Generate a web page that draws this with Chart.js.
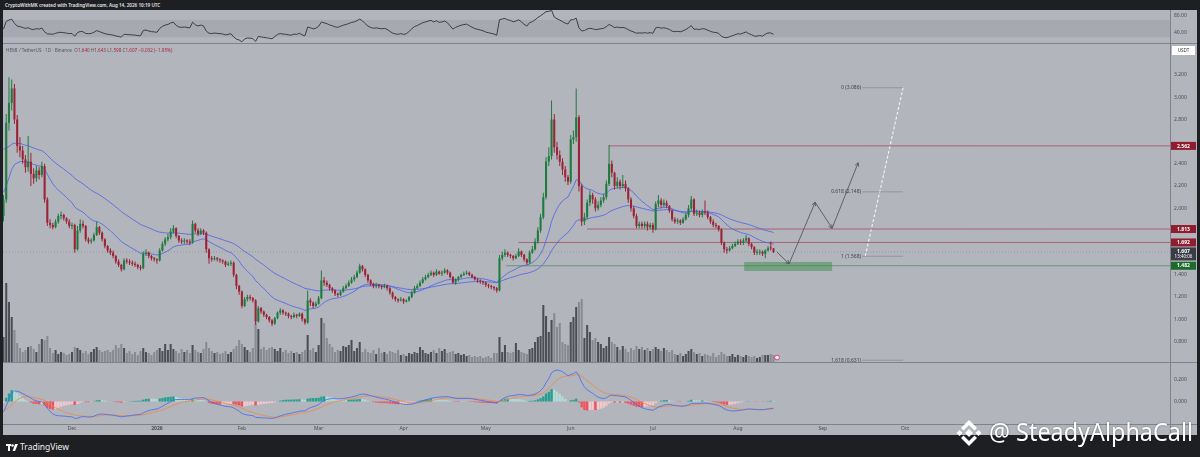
<!DOCTYPE html>
<html>
<head>
<meta charset="utf-8">
<script src="https://cdn.jsdelivr.net/npm/chart.js@4.4.1/dist/chart.umd.min.js"></script>
<style>
  html, body { margin: 0; padding: 0; }
  body { width: 1200px; height: 457px; background: #1e1f23; position: relative; overflow: hidden; font-family: 'Noto Sans', Roboto, sans-serif; }
  #frame { position: absolute; left: 3px; top: 10px; width: 1194px; height: 425px; background: #b3b5bd; }
  canvas { position: absolute; left: 0; }
  .hline { position: absolute; left: 3px; width: 1194px; height: 1px; background: #7f828a; }
  .vline { position: absolute; left: 1170px; top: 10px; width: 1px; height: 425px; background: #7f828a; }
  #hdr { position: absolute; left: 5px; top: 2px; font-size: 4.6px; line-height: 6px; color: #e6e6e6; font-weight: 600; white-space: nowrap; }
  #legend { position: absolute; left: 6px; top: 47px; font-size: 4.6px; line-height: 6px; color: #55575d; white-space: nowrap; }
  #legend .v { color: #a3283a; }
  #usdt { position: absolute; left: 1172px; top: 46px; width: 23px; height: 9px; background: #fff; color: #333; font-size: 4.6px; line-height: 9px; text-align: center; }
  #tv { position: absolute; left: 6px; top: 441px; color: #f0f0f0; font-size: 8.5px; line-height: 11px; white-space: nowrap; }
  #tv svg { vertical-align: -1px; margin-right: 2px; }
  #wm { position: absolute; left: 954px; top: 417px; height: 32px; white-space: nowrap; }
  #wm svg { position: absolute; left: 0; top: 1px; }
  #wmText { position: absolute; left: 35px; top: -2px; color: #fff; font-size: 25px; line-height: 32px; transform-origin: 0 0; text-shadow: 0 0 2px rgba(0,0,0,0.45); }
</style>
</head>
<body>
<div id="frame"></div>
<canvas id="rsiChart" width="1200" height="33" style="top:10px"></canvas>
<canvas id="mainChart" width="1200" height="319" style="top:43px"></canvas>
<canvas id="macdChart" width="1200" height="73" style="top:362px"></canvas>
<div class="hline" style="top:43px"></div>
<div class="hline" style="top:362px"></div>
<div class="hline" style="top:424px"></div>
<div class="vline"></div>
<div id="hdr">CryptoWithMK created with TradingView.com, Aug 14, 2026 10:19 UTC</div>
<div id="legend">HEMI / TetherUS · 1D · Binance &nbsp;O<span class="v">1.640</span> H<span class="v">1.643</span> L<span class="v">1.598</span> C<span class="v">1.607 −0.032 (−1.95%)</span></div>
<div id="usdt">USDT</div>
<div id="tv"><svg width="12" height="7" viewBox="0 0 12 7"><rect x="0" y="0" width="5" height="2" fill="#fff"/><rect x="2" y="0" width="2" height="7" fill="#fff"/><circle cx="6.5" cy="1.5" r="1.3" fill="#fff"/><polygon points="9,0 12,0 9,7 6.6,7" fill="#fff"/></svg>TradingView</div>
<div id="wm">
  <svg width="30" height="30" viewBox="0 0 30 30">
    <g fill="#fff">
      <polygon points="15,11 19,15 15,19 11,15"/>
      <polygon points="15,2 23,10 20.5,12.5 15,7 9.5,12.5 7,10"/>
      <polygon points="15,28 23,20 20.5,17.5 15,23 9.5,17.5 7,20"/>
      <polygon points="2.5,15 5.5,12 8.5,15 5.5,18"/>
      <polygon points="27.5,15 24.5,12 21.5,15 24.5,18"/>
    </g>
  </svg>
  <span id="wmText">@ SteadyAlphaCall</span>
</div>

<script>
// --- Data (daily candles, day 0 = 6 Nov 2025) ---
const firstOpen = 1.93;
const closes = [
  2.08,2.77,2.95,3.08,2.80,2.56,2.52,2.44,2.37,2.42,
  2.31,2.27,2.34,2.30,2.38,2.08,1.87,1.85,1.83,1.88,
  1.93,1.94,1.91,1.88,1.84,1.85,1.63,1.80,1.86,1.84,
  1.72,1.70,1.71,1.76,1.83,1.78,1.72,1.66,1.62,1.60,
  1.57,1.52,1.49,1.45,1.53,1.52,1.51,1.50,1.49,1.47,
  1.46,1.59,1.60,1.57,1.55,1.54,1.53,1.62,1.68,1.72,
  1.74,1.79,1.82,1.75,1.71,1.70,1.71,1.70,1.69,1.86,
  1.80,1.77,1.80,1.78,1.63,1.55,1.54,1.55,1.54,1.53,
  1.52,1.49,1.50,1.51,1.40,1.30,1.25,1.12,1.18,1.20,
  1.19,1.17,0.98,1.10,1.07,1.04,1.02,0.99,0.96,1.01,
  1.06,1.08,1.06,1.05,1.03,1.02,1.04,1.03,1.05,1.00,
  0.97,1.17,1.15,1.12,1.14,1.19,1.35,1.33,1.31,1.28,
  1.26,1.23,1.22,1.25,1.28,1.30,1.33,1.36,1.38,1.42,
  1.48,1.45,1.40,1.35,1.32,1.30,1.31,1.30,1.29,1.30,
  1.28,1.24,1.20,1.18,1.17,1.18,1.16,1.17,1.20,1.24,
  1.28,1.30,1.33,1.36,1.38,1.40,1.42,1.40,1.43,1.41,
  1.42,1.44,1.42,1.38,1.33,1.36,1.38,1.40,1.41,1.42,
  1.40,1.38,1.36,1.35,1.34,1.33,1.31,1.30,1.29,1.28,
  1.26,1.55,1.58,1.60,1.58,1.57,1.55,1.57,1.61,1.58,
  1.54,1.51,1.60,1.63,1.70,1.80,1.92,2.10,2.42,2.47,
  2.80,2.55,2.48,2.42,2.35,2.28,2.24,2.62,2.64,2.82,
  2.20,1.88,1.92,2.05,2.12,2.08,2.00,2.03,2.07,2.10,
  2.22,2.40,2.32,2.20,2.24,2.20,2.22,2.18,2.08,2.00,
  1.93,1.84,1.86,1.84,1.86,1.83,1.85,1.81,2.04,2.07,
  2.03,2.05,2.02,1.98,1.90,1.88,1.89,1.87,1.90,1.94,
  2.00,2.08,1.95,1.96,1.94,1.97,1.96,1.92,1.88,1.85,
  1.84,1.81,1.69,1.63,1.62,1.64,1.66,1.68,1.70,1.69,
  1.71,1.73,1.68,1.65,1.60,1.60,1.61,1.59,1.62,1.64,
  1.639,1.607
];
const highs = [
  2.12,2.85,3.18,3.16,3.12,2.84,2.64,2.56,2.48,2.65,
  2.50,2.36,2.38,2.37,2.42,2.40,2.10,1.90,1.87,1.90,
  1.95,1.97,1.95,1.92,1.90,1.87,1.86,1.84,1.90,1.89,
  1.85,1.74,1.73,1.78,1.88,1.84,1.79,1.73,1.67,1.64,
  1.62,1.58,1.54,1.50,1.55,1.55,1.54,1.53,1.52,1.50,
  1.49,1.61,1.63,1.61,1.58,1.56,1.55,1.64,1.70,1.74,
  1.77,1.82,1.85,1.83,1.76,1.73,1.73,1.72,1.72,1.89,
  1.87,1.82,1.82,1.81,1.79,1.64,1.57,1.57,1.56,1.55,
  1.54,1.53,1.52,1.53,1.52,1.41,1.31,1.26,1.20,1.22,
  1.22,1.20,1.18,1.12,1.11,1.08,1.05,1.03,1.00,1.02,
  1.07,1.10,1.09,1.07,1.06,1.04,1.06,1.05,1.06,1.06,
  1.01,1.26,1.19,1.16,1.16,1.21,1.44,1.38,1.35,1.32,
  1.29,1.27,1.24,1.26,1.30,1.32,1.35,1.38,1.40,1.44,
  1.50,1.49,1.46,1.41,1.36,1.33,1.33,1.32,1.31,1.32,
  1.31,1.29,1.25,1.21,1.19,1.20,1.19,1.18,1.21,1.26,
  1.30,1.32,1.35,1.38,1.40,1.42,1.44,1.43,1.45,1.44,
  1.44,1.46,1.45,1.43,1.39,1.37,1.39,1.41,1.43,1.44,
  1.43,1.41,1.39,1.37,1.36,1.35,1.34,1.32,1.31,1.30,
  1.29,1.58,1.61,1.63,1.61,1.59,1.58,1.59,1.64,1.62,
  1.59,1.55,1.62,1.66,1.73,1.83,1.95,2.14,2.46,2.55,
  2.97,2.85,2.60,2.52,2.45,2.38,2.30,2.66,2.70,3.08,
  2.84,2.22,1.96,2.08,2.16,2.14,2.10,2.06,2.10,2.13,
  2.25,2.57,2.43,2.33,2.28,2.26,2.30,2.25,2.19,2.10,
  2.02,1.95,1.88,1.88,1.88,1.88,1.87,1.87,2.06,2.12,
  2.09,2.08,2.07,2.03,1.99,1.92,1.91,1.90,1.92,1.96,
  2.03,2.11,2.09,1.99,1.98,1.99,2.07,1.98,1.93,1.90,
  1.87,1.85,1.82,1.70,1.65,1.66,1.68,1.70,1.72,1.72,
  1.73,1.76,1.74,1.69,1.66,1.63,1.63,1.62,1.63,1.66,
  1.70,1.643
];
const lows = [
  1.88,2.05,2.70,2.88,2.76,2.50,2.46,2.40,2.32,2.33,
  2.20,2.22,2.24,2.26,2.28,2.05,1.84,1.82,1.81,1.82,
  1.86,1.90,1.89,1.86,1.82,1.81,1.60,1.62,1.78,1.82,
  1.70,1.68,1.68,1.70,1.75,1.76,1.70,1.64,1.60,1.58,
  1.55,1.50,1.47,1.43,1.44,1.50,1.49,1.48,1.47,1.45,
  1.44,1.45,1.57,1.55,1.53,1.52,1.50,1.52,1.61,1.66,
  1.70,1.72,1.77,1.73,1.69,1.68,1.68,1.68,1.67,1.68,
  1.78,1.75,1.76,1.76,1.60,1.50,1.52,1.53,1.52,1.51,
  1.50,1.47,1.48,1.48,1.38,1.27,1.22,1.10,1.11,1.16,
  1.17,1.15,0.95,0.97,1.05,1.02,1.00,0.97,0.94,0.95,
  1.00,1.04,1.04,1.03,1.01,1.00,1.01,1.01,1.02,0.98,
  0.95,0.96,1.12,1.10,1.11,1.13,1.18,1.30,1.29,1.26,
  1.24,1.21,1.20,1.21,1.24,1.27,1.29,1.32,1.34,1.37,
  1.41,1.43,1.38,1.33,1.30,1.28,1.28,1.28,1.27,1.28,
  1.26,1.22,1.18,1.16,1.15,1.16,1.14,1.15,1.16,1.19,
  1.23,1.27,1.29,1.32,1.35,1.37,1.39,1.38,1.39,1.40,
  1.39,1.41,1.40,1.37,1.32,1.31,1.34,1.37,1.39,1.40,
  1.39,1.37,1.35,1.33,1.32,1.31,1.29,1.28,1.27,1.26,
  1.24,1.25,1.53,1.56,1.56,1.55,1.53,1.54,1.56,1.56,
  1.52,1.49,1.50,1.59,1.62,1.68,1.78,1.90,2.08,2.38,
  2.44,2.50,2.44,2.38,2.30,2.24,2.21,2.22,2.58,2.60,
  2.15,1.84,1.85,1.90,2.02,2.04,1.97,1.98,2.01,2.05,
  2.08,2.20,2.28,2.17,2.18,2.17,2.18,2.15,2.05,1.97,
  1.91,1.82,1.82,1.82,1.82,1.80,1.81,1.78,1.80,2.01,
  2.00,2.01,2.00,1.96,1.88,1.86,1.86,1.85,1.86,1.89,
  1.92,1.98,1.93,1.93,1.92,1.92,1.94,1.90,1.86,1.83,
  1.82,1.79,1.67,1.60,1.59,1.61,1.63,1.65,1.67,1.67,
  1.67,1.69,1.66,1.63,1.58,1.58,1.58,1.57,1.55,1.61,
  1.62,1.598
];
// volume in millions
const volumes = [
  2.5,7.9,6.0,4.5,3.2,1.9,1.4,1.0,1.2,1.5,
  1.6,1.3,1.0,1.8,2.3,2.2,2.6,1.4,0.9,1.2,
  0.8,1.0,0.9,0.7,0.8,1.0,1.5,1.4,1.2,0.9,
  1.1,0.8,1.0,1.3,1.5,1.2,1.0,1.1,1.2,1.0,
  1.2,1.7,1.4,1.8,1.4,0.9,1.1,0.8,1.0,0.7,
  1.1,1.4,1.0,0.9,0.7,1.0,1.2,1.4,1.1,1.8,
  1.2,1.8,1.3,1.1,0.9,1.3,1.0,1.2,0.9,1.7,
  1.2,1.0,0.9,1.3,2.0,1.4,1.1,0.9,1.0,0.8,
  0.9,1.1,0.8,1.0,1.3,1.6,2.2,1.8,1.5,1.2,
  1.0,1.4,3.9,3.3,1.3,1.5,1.2,1.4,1.5,1.3,
  1.1,1.4,1.0,1.2,0.9,1.1,0.9,1.0,0.8,1.0,
  1.2,2.7,1.2,1.4,1.0,1.7,4.4,3.9,2.4,1.8,
  1.5,1.0,1.2,1.1,1.6,1.5,1.7,2.2,1.1,1.4,
  2.0,1.0,1.3,1.0,0.9,1.2,0.8,1.4,0.9,1.0,
  0.8,1.1,1.0,0.9,1.2,0.7,0.8,0.6,0.9,0.8,
  1.0,0.9,1.5,1.2,0.9,0.8,1.0,1.2,0.9,1.4,
  1.1,1.3,0.9,1.0,1.1,0.8,0.9,0.7,0.8,0.6,
  0.7,0.5,0.6,0.5,0.6,0.4,0.5,0.6,0.4,0.9,
  0.9,2.5,1.0,1.7,1.0,0.9,1.0,1.9,1.2,1.0,
  0.9,0.8,1.3,1.4,2.0,2.5,2.6,5.7,4.6,3.0,
  4.2,4.9,3.5,3.9,2.0,1.8,1.7,4.0,4.5,5.5,
  6.0,6.3,2.4,3.7,3.0,2.2,2.4,2.0,1.8,1.4,
  1.6,2.5,2.0,1.8,1.5,1.2,1.6,1.3,1.0,1.4,
  1.2,1.6,1.3,1.5,1.2,1.4,1.1,1.3,1.5,1.3,
  1.1,1.4,1.2,1.0,1.2,0.8,0.7,0.9,0.6,0.8,
  1.1,1.3,1.0,0.8,0.9,0.6,0.8,0.7,0.6,0.9,
  0.5,0.7,1.0,0.8,0.6,0.6,0.8,0.5,0.7,0.6,
  0.5,0.7,0.6,0.5,0.6,0.4,0.5,0.7,0.7,0.7,
  0.8,0.7
];

// indicator starting values read at the left edge of the chart
const ema20Seed = 2.15, ema50Seed = 2.55;
const ema12Seed = 2.15, ema26Seed = 2.25, signalSeed = -0.08;
const rsiSeedGain = 0.04, rsiSeedLoss = 0.055;

// axes
const viewStart = -0.18, viewEnd = 425.7;
const priceMin = 0.615, priceMax = 3.489;
const priceTicks = [0.8, 1.0, 1.2, 1.4, 2.0, 2.2, 2.4, 2.8, 3.0, 3.2];
const monthTicks = [25, 56, 87, 115, 146, 176, 207, 237, 268, 299, 329];
const monthLabels = ['Dec', '2026', 'Feb', 'Mar', 'Apr', 'May', 'Jun', 'Jul', 'Aug', 'Sep', 'Oct'];
const rsiMin = 16.4, rsiMax = 92.7, rsiTicks = [40, 80], rsiBand = [30, 70];
const macdMin = -0.209, macdMax = 0.367, macdTicks = [0, 0.2];

// drawings
const redLevels = [2.562, 1.813, 1.692];
const redLevelStarts = [221, 213, 188];
const greenLevel = 1.482, greenLevelStart = 183.5;
const lastPrice = 1.607, countdown = '13:40:06';
const zoneDays = [270.3, 302.4];
const zonePrices = [1.435, 1.516];
const pathDays = [282.2, 286.7, 296.2, 302.4, 311.9];
const pathPrices = [1.607, 1.50, 2.054, 1.82, 2.41];
const fibRatios = ['0', '0.618', '1', '1.618'];
const fibPrices = [3.086, 2.148, 1.568, 0.631];
const fibDays = [313.3, 328.3];
const fibAnchorDays = [314.5, 328.3];
const fibAnchorPrices = [1.568, 3.086];

// --- derived series ---
const opens = closes.map((c, i) => i === 0 ? firstOpen : closes[i - 1]);
const isUp = closes.map((c, i) => c >= opens[i]);

function ema(values, len, seed) {
  const k = 2 / (len + 1);
  let prev = seed;
  return values.map(v => (prev = prev + k * (v - prev)));
}
const ema20 = ema(closes, 20, ema20Seed);
const ema50 = ema(closes, 50, ema50Seed);
const ema12 = ema(closes, 12, ema12Seed);
const ema26 = ema(closes, 26, ema26Seed);
const macdLine = ema12.map((v, i) => v - ema26[i]);
const signalLine = ema(macdLine, 9, signalSeed);
const macdHist = macdLine.map((v, i) => v - signalLine[i]);

let avgGain = rsiSeedGain, avgLoss = rsiSeedLoss;
const rsi = closes.map((c, i) => {
  const change = c - opens[i];
  avgGain = (avgGain * 13 + Math.max(change, 0)) / 14;
  avgLoss = (avgLoss * 13 + Math.max(-change, 0)) / 14;
  return 100 - 100 / (1 + avgGain / avgLoss);
});

const histColors = macdHist.map((h, i) => {
  const prev = i ? macdHist[i - 1] : h;
  if (h >= 0) return h >= prev ? '#22a08f' : '#b3dcd7';
  return h < prev ? '#f0525a' : '#f4c9cd';
});

const GREEN = '#1f7a3d', RED = '#9b2335';
const candleColors = isUp.map(u => u ? GREEN : RED);
const volColors = isUp.map(u => u ? 'rgba(58,60,66,0.85)' : 'rgba(128,131,138,0.85)');
const pts = arr => arr.map((y, x) => ({ x, y }));

Chart.defaults.font.family = "'Noto Sans', Roboto, sans-serif";
Chart.defaults.animation = false;

function xAxis(display) {
  const axis = {
    type: 'linear', min: viewStart, max: viewEnd, offset: false, display,
    grid: { display: false, drawTicks: false }, border: { display: false },
    afterBuildTicks: s => { s.ticks = monthTicks.map(v => ({ value: v })); },
    ticks: {
      autoSkip: false, maxRotation: 0, padding: 2, color: '#4a4c52',
      font: c => ({ size: 5, weight: c.tick && c.tick.value === 56 ? 'bold' : 'normal' }),
      callback: (v, i) => monthLabels[i]
    }
  };
  if (display) axis.afterFit = s => { s.height = 11; s.paddingLeft = 0; s.paddingRight = 0; };
  return axis;
}
function yAxis(min, max, ticks, digits) {
  return {
    position: 'right', min, max,
    grid: { display: false, drawTicks: false }, border: { display: false },
    afterBuildTicks: s => { s.ticks = ticks.map(v => ({ value: v })); },
    afterFit: s => { s.width = 30; s.paddingTop = 0; s.paddingBottom = 0; },
    ticks: { padding: 4, color: '#4a4c52', font: { size: 5 }, callback: v => v.toFixed(digits) }
  };
}
const baseOptions = {
  responsive: false, devicePixelRatio: 1, events: [],
  layout: { padding: { left: 3, right: 0, top: 0, bottom: 0 } },
  plugins: { legend: { display: false }, tooltip: { enabled: false } }
};

// --- RSI pane ---
const rsiBandPlugin = {
  id: 'rsiBand',
  beforeDatasetsDraw(chart) {
    const { ctx, chartArea, scales: { y } } = chart;
    const top = y.getPixelForValue(rsiBand[1]), bottom = y.getPixelForValue(rsiBand[0]);
    ctx.save();
    ctx.fillStyle = 'rgba(70,72,90,0.10)';
    ctx.fillRect(chartArea.left, top, chartArea.right - chartArea.left, bottom - top);
    ctx.restore();
  }
};
new Chart(document.getElementById('rsiChart'), {
  type: 'line',
  data: { datasets: [{ data: pts(rsi), borderColor: '#3b3c43', borderWidth: 1, pointRadius: 0 }] },
  options: { ...baseOptions, scales: { x: xAxis(false), y: yAxis(rsiMin, rsiMax, rsiTicks, 2) } },
  plugins: [rsiBandPlugin]
});

// --- Price pane ---
const lineSet = (data, color, width, order, dash) => ({
  type: 'line', data, borderColor: color, borderWidth: width, pointRadius: 0,
  borderDash: dash || [], order, yAxisID: 'y'
});
const levelSets = redLevels.map((p, i) =>
  lineSet([{ x: redLevelStarts[i], y: p }, { x: viewEnd, y: p }], 'rgba(160,45,62,0.75)', 0.8, 3));
levelSets.push(lineSet([{ x: greenLevelStart, y: greenLevel }, { x: viewEnd, y: greenLevel }], 'rgba(55,130,70,0.75)', 0.8, 3));
levelSets.push(lineSet([{ x: viewStart, y: lastPrice }, { x: viewEnd, y: lastPrice }], 'rgba(120,100,110,0.4)', 1, 4, [1, 2]));
const fibSets = fibPrices.map(p =>
  lineSet([{ x: fibDays[0], y: p }, { x: fibDays[1], y: p }], 'rgba(120,122,130,0.7)', 0.8, 3));
fibSets.push(lineSet(fibAnchorDays.map((d, i) => ({ x: d, y: fibAnchorPrices[i] })), 'rgba(255,255,255,0.85)', 1.1, 3, [3, 2]));
const pathSet = lineSet(pathDays.map((d, i) => ({ x: d, y: pathPrices[i] })), '#55575e', 0.9, 2);

const mainOverlay = {
  id: 'mainOverlay',
  beforeDatasetsDraw(chart) {
    const { ctx, scales: { x, y } } = chart;
    const x0 = x.getPixelForValue(zoneDays[0]), x1 = x.getPixelForValue(zoneDays[1]);
    const y0 = y.getPixelForValue(zonePrices[1]), y1 = y.getPixelForValue(zonePrices[0]);
    ctx.save();
    ctx.fillStyle = 'rgba(45,140,60,0.45)';
    ctx.fillRect(x0, y0, x1 - x0, y1 - y0);
    ctx.restore();
  },
  afterDatasetsDraw(chart) {
    const { ctx, scales: { x, y } } = chart;
    ctx.save();
    // arrow heads on the projected path
    ctx.strokeStyle = '#55575e';
    ctx.lineWidth = 0.9;
    for (let i = 1; i < pathDays.length; i++) {
      const ax = x.getPixelForValue(pathDays[i - 1]), ay = y.getPixelForValue(pathPrices[i - 1]);
      const bx = x.getPixelForValue(pathDays[i]), by = y.getPixelForValue(pathPrices[i]);
      const ang = Math.atan2(by - ay, bx - ax);
      ctx.beginPath();
      ctx.moveTo(bx - 4 * Math.cos(ang - 0.5), by - 4 * Math.sin(ang - 0.5));
      ctx.lineTo(bx, by);
      ctx.lineTo(bx - 4 * Math.cos(ang + 0.5), by - 4 * Math.sin(ang + 0.5));
      ctx.stroke();
    }
    // fib labels
    ctx.font = "5px 'Noto Sans'";
    ctx.fillStyle = '#3d3f45';
    ctx.textAlign = 'right';
    ctx.textBaseline = 'middle';
    fibPrices.forEach((p, i) => {
      ctx.fillText(fibRatios[i] + ' (' + p.toFixed(3) + ')', x.getPixelForValue(fibDays[0]) - 1, y.getPixelForValue(p));
    });
    // small event marker after the last volume bar
    const mx = x.getPixelForValue(closes.length + 0.3), my = chart.chartArea.bottom - 4.5;
    ctx.beginPath();
    ctx.arc(mx, my, 2.4, 0, Math.PI * 2);
    ctx.fillStyle = '#f7f0f5';
    ctx.fill();
    ctx.strokeStyle = '#d9407f';
    ctx.lineWidth = 1;
    ctx.stroke();
    ctx.restore();
  },
  afterDraw(chart) {
    const { ctx, scales: { y } } = chart;
    const left = chart.chartArea.right + 1;
    ctx.save();
    ctx.textAlign = 'center';
    ctx.textBaseline = 'middle';
    const marks = redLevels.map(p => ({ p, c: '#8f1d2e' }));
    marks.push({ p: greenLevel, c: '#1d6a2c' });
    marks.forEach(m => {
      const py = y.getPixelForValue(m.p);
      ctx.fillStyle = m.c;
      ctx.fillRect(left, py - 4, 25, 8);
      ctx.fillStyle = '#fff';
      ctx.font = "bold 5px 'Noto Sans'";
      ctx.fillText(m.p.toFixed(3), left + 12.5, py + 0.3);
    });
    const py = y.getPixelForValue(lastPrice);
    ctx.fillStyle = '#3a3d46';
    ctx.fillRect(left, py - 4.5, 25, 13);
    ctx.fillStyle = '#fff';
    ctx.font = "bold 5px 'Noto Sans'";
    ctx.fillText(lastPrice.toFixed(3), left + 12.5, py - 0.5);
    ctx.font = "4.5px 'Noto Sans'";
    ctx.fillText(countdown, left + 12.5, py + 5);
    ctx.restore();
  }
};

new Chart(document.getElementById('mainChart'), {
  type: 'bar',
  data: {
    datasets: [
      { type: 'bar', data: closes.map((c, i) => ({ x: i, y: [opens[i], c] })), backgroundColor: candleColors,
        grouped: false, barPercentage: 0.75, categoryPercentage: 1, minBarLength: 1, order: 1, yAxisID: 'y' },
      { type: 'bar', data: closes.map((c, i) => ({ x: i, y: [lows[i], highs[i]] })), backgroundColor: candleColors,
        grouped: false, maxBarThickness: 1, order: 1.5, yAxisID: 'y' },
      lineSet(pts(ema20), 'rgba(72,98,235,0.8)', 1, 2.5),
      lineSet(pts(ema50), 'rgba(72,98,235,0.8)', 1, 2.5),
      ...levelSets,
      ...fibSets,
      pathSet,
      { type: 'bar', data: pts(volumes), backgroundColor: volColors, grouped: false,
        barPercentage: 0.75, categoryPercentage: 1, order: 10, yAxisID: 'vol' }
    ]
  },
  options: {
    ...baseOptions,
    scales: {
      x: xAxis(false),
      y: yAxis(priceMin, priceMax, priceTicks, 3),
      vol: { display: false, min: 0, max: 31.9 }
    }
  },
  plugins: [mainOverlay]
});

// --- MACD pane ---
new Chart(document.getElementById('macdChart'), {
  type: 'bar',
  data: {
    datasets: [
      { type: 'line', data: pts(macdLine), borderColor: 'rgba(70,110,235,0.85)', borderWidth: 1, pointRadius: 0, order: 1 },
      { type: 'line', data: pts(signalLine), borderColor: 'rgba(232,140,80,0.9)', borderWidth: 1, pointRadius: 0, order: 2 },
      { type: 'bar', data: pts(macdHist), backgroundColor: histColors, grouped: false,
        barPercentage: 0.85, categoryPercentage: 1, order: 3 }
    ]
  },
  options: { ...baseOptions, scales: { x: xAxis(true), y: yAxis(macdMin, macdMax, macdTicks, 3) } }
});

// fit the watermark text to its width in the picture
const wmText = document.getElementById('wmText');
wmText.style.transform = 'scaleX(' + (204 / wmText.offsetWidth) + ')';
</script>
</body>
</html>
